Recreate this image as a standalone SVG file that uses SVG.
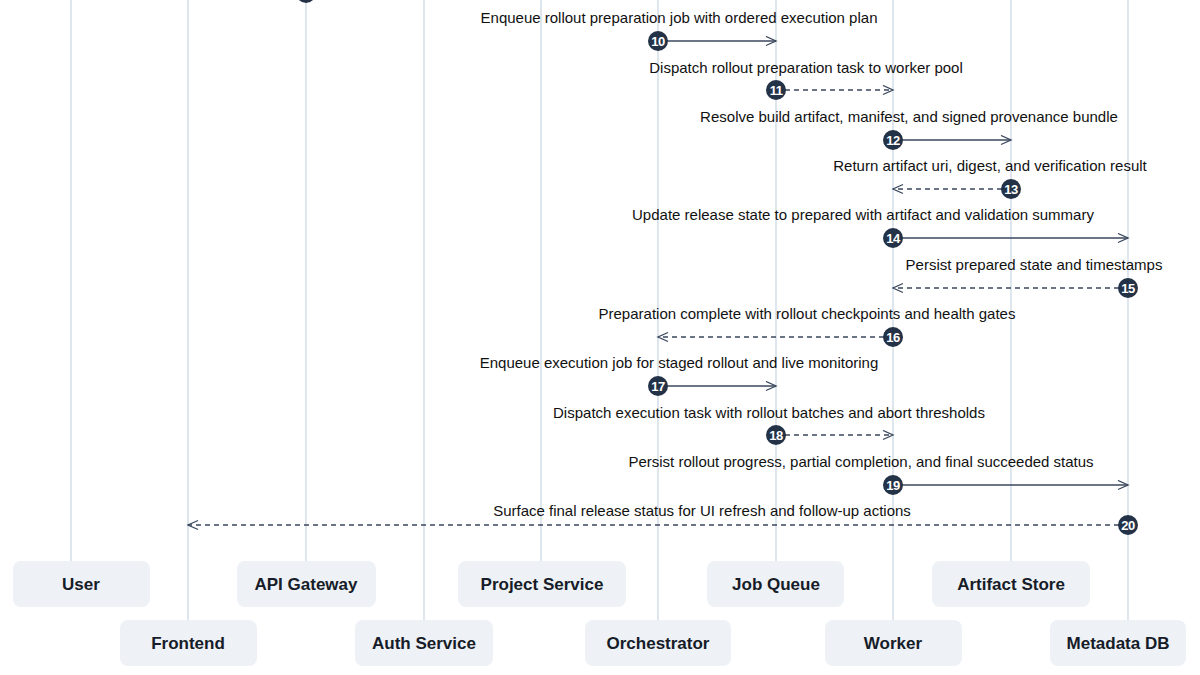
<svg xmlns="http://www.w3.org/2000/svg" width="1200" height="675" viewBox="0 0 1200 675">
<defs>
<style>
.life{stroke:#c9d5e2;stroke-width:1.2}
.box{fill:#eef1f6}
.pl{font-family:"Liberation Sans",Arial,sans-serif;font-size:17px;font-weight:bold;fill:#161c28;text-anchor:middle}
.msg{stroke:#3a475c;stroke-width:1.4;fill:none}
.dash{stroke-dasharray:5 4}
.lbl{font-family:"Liberation Sans",Arial,sans-serif;font-size:15px;fill:#111;text-anchor:middle}
.num{fill:#243247}
.nt{font-family:"Liberation Sans",Arial,sans-serif;font-size:13px;font-weight:bold;fill:#fff;text-anchor:middle;letter-spacing:-0.5px}
</style>
<marker id="ah" markerWidth="13" markerHeight="13" refX="11" refY="5.5" orient="auto" markerUnits="userSpaceOnUse">
<path d="M1,1 L11,5.5 L1,10" fill="none" stroke="#3a475c" stroke-width="1.3"/>
</marker>
</defs>
<rect width="1200" height="675" fill="#ffffff"/>
<g id="lifelines">
<line class="life" x1="71" y1="0" x2="71" y2="561"/>
<line class="life" x1="188" y1="0" x2="188" y2="620"/>
<line class="life" x1="306" y1="0" x2="306" y2="561"/>
<line class="life" x1="424" y1="0" x2="424" y2="620"/>
<line class="life" x1="541" y1="0" x2="541" y2="561"/>
<line class="life" x1="658" y1="0" x2="658" y2="620"/>
<line class="life" x1="776" y1="0" x2="776" y2="561"/>
<line class="life" x1="893" y1="0" x2="893" y2="620"/>
<line class="life" x1="1011" y1="0" x2="1011" y2="561"/>
<line class="life" x1="1128" y1="0" x2="1128" y2="620"/>
</g>
<g id="node-user"><rect class="box" x="13" y="561" width="137" height="46" rx="8"/><text class="pl" x="81" y="590">User</text></g>
<g id="node-frontend"><rect class="box" x="120" y="620" width="137" height="46" rx="8"/><text class="pl" x="188" y="649">Frontend</text></g>
<g id="node-apigateway"><rect class="box" x="237" y="561" width="139" height="46" rx="8"/><text class="pl" x="306" y="590">API Gateway</text></g>
<g id="node-auth"><rect class="box" x="355" y="620" width="138" height="46" rx="8"/><text class="pl" x="424" y="649">Auth Service</text></g>
<g id="node-project"><rect class="box" x="458" y="561" width="168" height="46" rx="8"/><text class="pl" x="542" y="590">Project Service</text></g>
<g id="node-orchestrator"><rect class="box" x="585" y="620" width="146" height="46" rx="8"/><text class="pl" x="658" y="649">Orchestrator</text></g>
<g id="node-jobqueue"><rect class="box" x="707" y="561" width="137" height="46" rx="8"/><text class="pl" x="776" y="590">Job Queue</text></g>
<g id="node-worker"><rect class="box" x="825" y="620" width="137" height="46" rx="8"/><text class="pl" x="893" y="649">Worker</text></g>
<g id="node-artifact"><rect class="box" x="932" y="561" width="158" height="46" rx="8"/><text class="pl" x="1011" y="590">Artifact Store</text></g>
<g id="node-metadata"><rect class="box" x="1050" y="620" width="136" height="46" rx="8"/><text class="pl" x="1118" y="649">Metadata DB</text></g>
<g id="connectors">
<circle class="num" cx="306" cy="-7" r="10"/>
<text class="lbl" x="679" y="23">Enqueue rollout preparation job with ordered execution plan</text>
<line class="msg" x1="658" y1="41" x2="776" y2="41" marker-end="url(#ah)"/>
<circle class="num" cx="658" cy="41" r="10"/><text class="nt" x="658" y="45.5">10</text>

<text class="lbl" x="806" y="73">Dispatch rollout preparation task to worker pool</text>
<line class="msg dash" x1="776" y1="90" x2="893" y2="90" marker-end="url(#ah)"/>
<circle class="num" cx="776" cy="90" r="10"/><text class="nt" x="776" y="94.5">11</text>

<text class="lbl" x="909" y="122">Resolve build artifact, manifest, and signed provenance bundle</text>
<line class="msg" x1="893" y1="140" x2="1011" y2="140" marker-end="url(#ah)"/>
<circle class="num" cx="893" cy="140" r="10"/><text class="nt" x="893" y="144.5">12</text>

<text class="lbl" x="990" y="171">Return artifact uri, digest, and verification result</text>
<line class="msg dash" x1="1011" y1="189" x2="893" y2="189" marker-end="url(#ah)"/>
<circle class="num" cx="1011" cy="189" r="10"/><text class="nt" x="1011" y="193.5">13</text>

<text class="lbl" x="863" y="220">Update release state to prepared with artifact and validation summary</text>
<line class="msg" x1="893" y1="238" x2="1128" y2="238" marker-end="url(#ah)"/>
<circle class="num" cx="893" cy="238" r="10"/><text class="nt" x="893" y="242.5">14</text>

<text class="lbl" x="1034" y="270">Persist prepared state and timestamps</text>
<line class="msg dash" x1="1128" y1="288" x2="893" y2="288" marker-end="url(#ah)"/>
<circle class="num" cx="1128" cy="288" r="10"/><text class="nt" x="1128" y="292.5">15</text>

<text class="lbl" x="807" y="319">Preparation complete with rollout checkpoints and health gates</text>
<line class="msg dash" x1="893" y1="337" x2="658" y2="337" marker-end="url(#ah)"/>
<circle class="num" cx="893" cy="337" r="10"/><text class="nt" x="893" y="341.5">16</text>

<text class="lbl" x="679" y="368">Enqueue execution job for staged rollout and live monitoring</text>
<line class="msg" x1="658" y1="386" x2="776" y2="386" marker-end="url(#ah)"/>
<circle class="num" cx="658" cy="386" r="10"/><text class="nt" x="658" y="390.5">17</text>

<text class="lbl" x="769" y="418">Dispatch execution task with rollout batches and abort thresholds</text>
<line class="msg dash" x1="776" y1="435" x2="893" y2="435" marker-end="url(#ah)"/>
<circle class="num" cx="776" cy="435" r="10"/><text class="nt" x="776" y="439.5">18</text>

<text class="lbl" x="861" y="467">Persist rollout progress, partial completion, and final succeeded status</text>
<line class="msg" x1="893" y1="485" x2="1128" y2="485" marker-end="url(#ah)"/>
<circle class="num" cx="893" cy="485" r="10"/><text class="nt" x="893" y="489.5">19</text>

<text class="lbl" x="702" y="516">Surface final release status for UI refresh and follow-up actions</text>
<line class="msg dash" x1="1128" y1="525" x2="188" y2="525" marker-end="url(#ah)"/>
<circle class="num" cx="1128" cy="525" r="10"/><text class="nt" x="1128" y="529.5">20</text>
</g>
</svg>
